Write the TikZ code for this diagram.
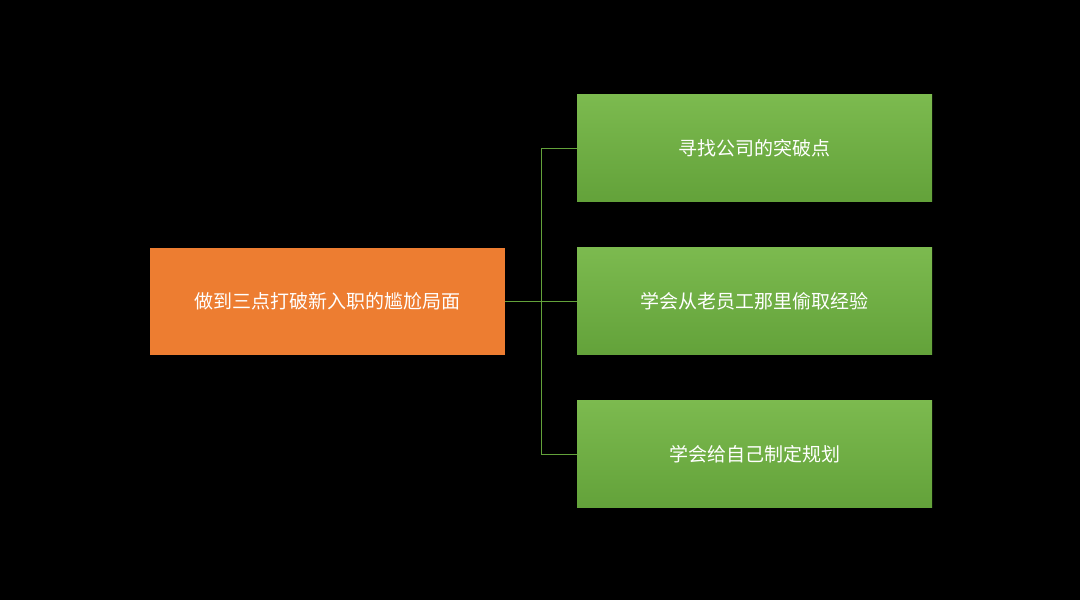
\documentclass[tikz,border=0pt]{standalone}
\usepackage{fontspec}
\setmainfont{Noto Sans CJK SC}
\begin{document}
\begin{tikzpicture}[x=1pt,y=-1pt,
  box/.style={draw=none,minimum width=355pt,minimum height=107pt,inner sep=0pt,text=white,font=\fontsize{19}{22}\selectfont},
  org/.style={box,fill=orgc},
  grn/.style={box,top color=grnt,bottom color=grnb},
  link/.style={draw=grnb,line width=0.8pt}]
\definecolor{orgc}{HTML}{ED7D31}
\definecolor{grnt}{HTML}{7CBA4F}
\definecolor{grnb}{HTML}{63A23A}
\fill[black] (0,0) rectangle (1080,600);
\useasboundingbox (0,0) rectangle (1080,600);
\node[org] (r) at (327.5,301) {做到三点打破新入职的尴尬局面};
\node[grn] (a) at (754.5,148) {寻找公司的突破点};
\node[grn] (b) at (754.5,301) {学会从老员工那里偷取经验};
\node[grn] (c) at (754.5,454) {学会给自己制定规划};
\coordinate (j) at (541,301);
\draw[link] (r.east) -- (b.west);
\draw[link] (j) |- (a.west);
\draw[link] (j) |- (c.west);
\end{tikzpicture}
\end{document}
